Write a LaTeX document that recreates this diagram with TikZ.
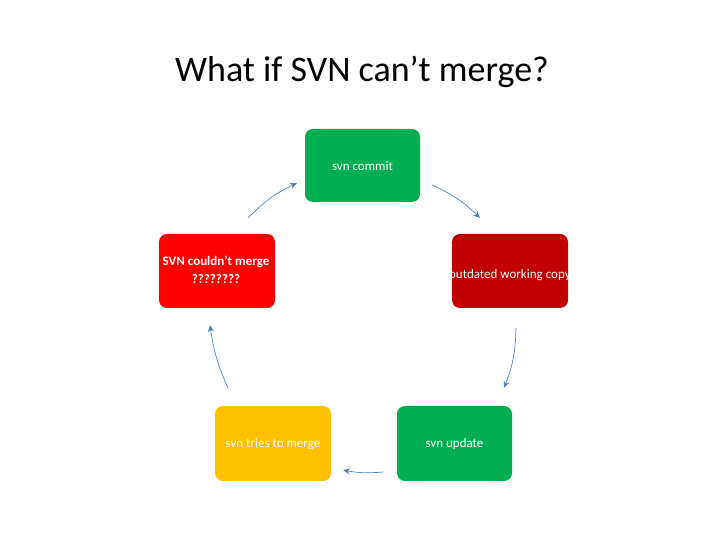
\documentclass[tikz,border=0pt]{standalone}
\usepackage{fontspec}
\setmainfont{Carlito}
\usetikzlibrary{arrows.meta}
\definecolor{cgreen}{HTML}{00B050}
\definecolor{cdred}{HTML}{C00000}
\definecolor{cred}{HTML}{FF0000}
\definecolor{cyel}{HTML}{FFC000}
\definecolor{carr}{HTML}{4F81BD}
\tikzset{
  box/.style={rounded corners=8pt},
  lbl/.style={font=\fontsize{13}{16}\selectfont, text=white, align=center},
  cyc/.style={draw=carr, line width=0.7pt, -{Stealth[length=7pt,width=6pt]}}
}
\begin{document}
\begin{tikzpicture}[x=1pt,y=1pt]
\useasboundingbox (0,0) rectangle (728,546);
\node[font=\fontsize{36}{40}\selectfont] (title) at (362,474) {What if SVN can’t merge?};
% boxes: (x1,y1top) -> tikz
\fill[box,cgreen] (305,417) rectangle (420,344);
\fill[box,cdred] (452,312) rectangle (568,238);
\fill[box,cgreen] (397,140) rectangle (512,65);
\fill[box,cyel] (215,140) rectangle (331,65);
\fill[box,cred] (159,312) rectangle (275,238);
\node[lbl] (b1) at (362.5,380) {svn commit};
\node[lbl] (b3) at (454.5,102) {svn update};
\begin{scope}
\clip (452,312) rectangle (568,238);
\node[lbl] (b2) at (478,271) {svn commit (outdated working copy)};
\end{scope}
\begin{scope}
\clip (215,140) rectangle (331,65);
\node[lbl] (b4) at (273,102) {svn tries to merge};
\end{scope}
\begin{scope}
\clip (159,312) rectangle (275,238);
\node[lbl, font=\bfseries\fontsize{13}{18}\selectfont] (b5) at (216,276) {SVN couldn’t merge\\????????};
\end{scope}
\coordinate (a1s) at (432,361); \coordinate (a1e) at (480,328);
\coordinate (a2s) at (516,218); \coordinate (a2e) at (504,158);
\coordinate (a3s) at (383,74);  \coordinate (a3e) at (343,76);
\coordinate (a4s) at (228,158); \coordinate (a4e) at (210,221);
\coordinate (a5s) at (248,328); \coordinate (a5e) at (297,363);
\draw[cyc] (a1s) to[bend left=10] (a1e);
\draw[cyc] (a2s) to[bend left=10] (a2e);
\draw[cyc] (a3s) to[bend left=8] (a3e);
\draw[cyc] (a4s) to[bend left=8] (a4e);
\draw[cyc] (a5s) to[bend left=10] (a5e);
\end{tikzpicture}
\end{document}
